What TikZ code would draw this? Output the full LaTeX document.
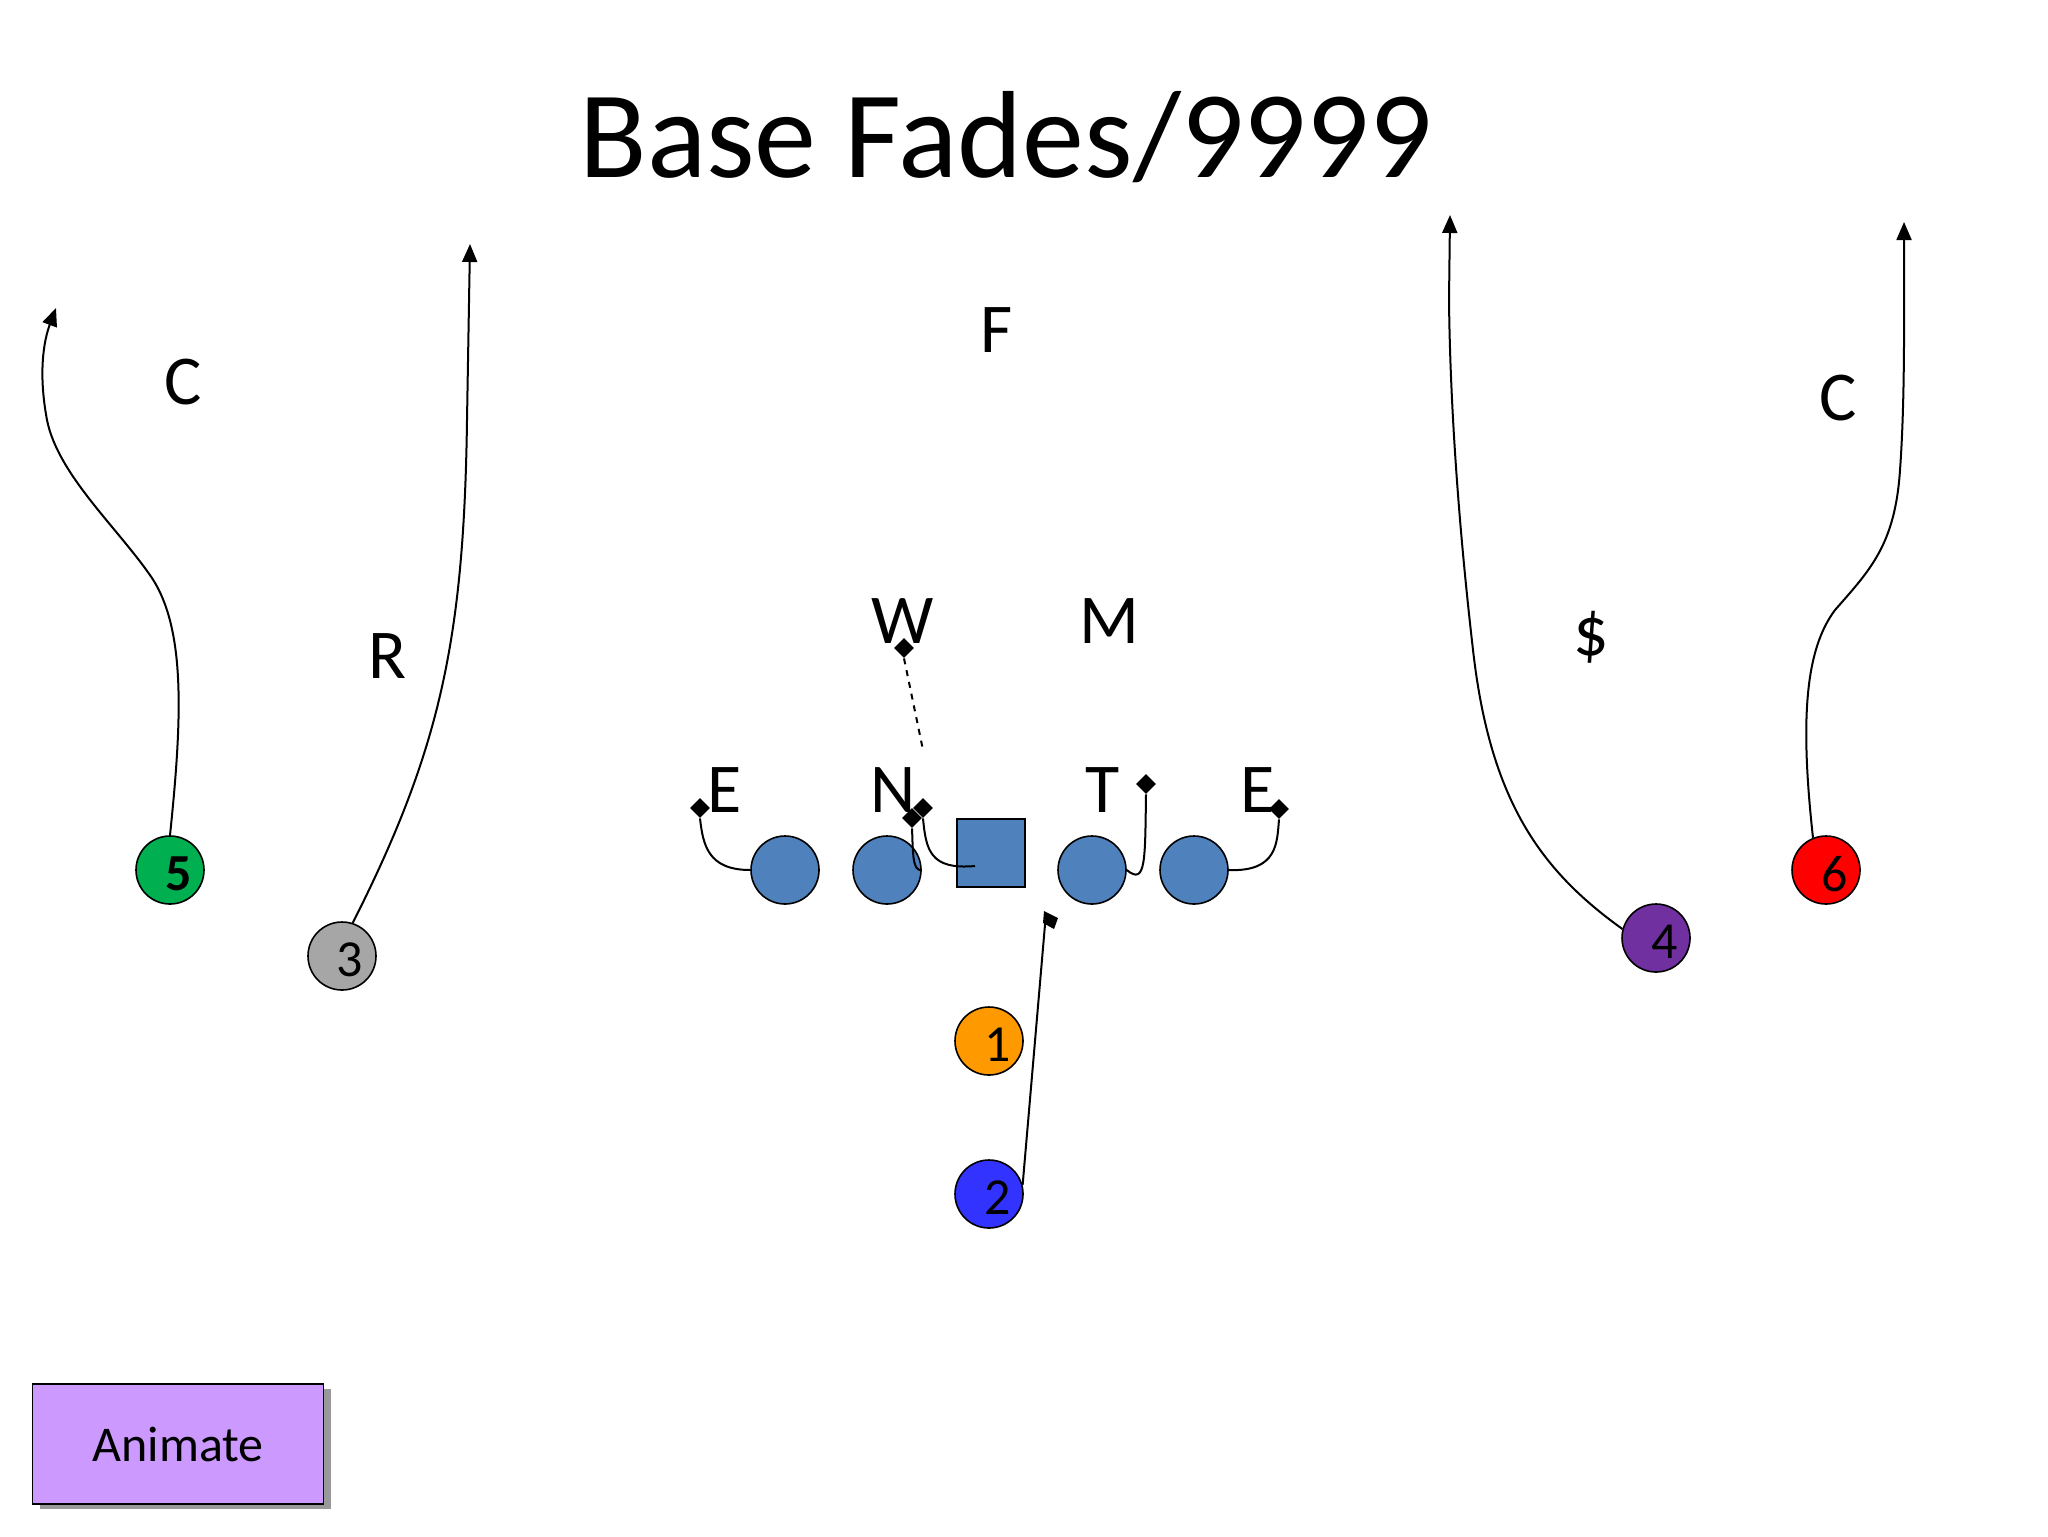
\documentclass[tikz,border=0pt]{standalone}
\usepackage{fontspec}
\setmainfont{Carlito}
\usetikzlibrary{arrows.meta,shapes.geometric,shadows}
\definecolor{olblue}{HTML}{4F81BD}
\definecolor{pgreen}{HTML}{00B050}
\definecolor{pgray}{HTML}{A6A6A6}
\definecolor{porange}{HTML}{FF9900}
\definecolor{pblue}{HTML}{3333FF}
\definecolor{ppurple}{HTML}{7030A0}
\definecolor{pred}{HTML}{FF0000}
\definecolor{animfill}{HTML}{CC99FF}
\begin{document}
\begin{tikzpicture}[x=0.5pt,y=-0.5pt,
  player/.style={circle,draw=black,line width=0.8pt,minimum size=34pt,inner sep=0pt},
  lineman/.style={circle,draw=black,line width=0.8pt,fill=olblue,minimum size=34pt,inner sep=0pt},
  num/.style={inner sep=0pt,font=\fontsize{26}{30}\selectfont},
  lbl/.style={inner sep=0pt,font=\fontsize{35}{42}\selectfont},
  dia/.style={diamond,fill=black,draw=none,inner sep=0pt,minimum width=10pt,minimum height=10pt},
  route/.style={line width=1pt,-{Triangle[length=9pt,width=7.5pt]}},
  block/.style={line width=1pt}
]
\useasboundingbox (0,0) rectangle (2048,1536);

% title
\node[inner sep=0pt,font=\fontsize{62}{70}\selectfont] (title) at (1006,137) {Base Fades/9999};

% defense labels
\node[lbl] (F) at (997,330) {F};
\node[lbl] (CL) at (183,382) {C};
\node[lbl] (CR) at (1838,398) {C};
\node[lbl] (R) at (387,656) {R};
\node[lbl] (W) at (903,621) {W};
\node[lbl] (M) at (1109,621) {M};
\node[lbl] (S) at (1591,637) {\$};
\node[lbl] (EL) at (725,790) {E};
\node[lbl] (N) at (893,790) {N};
\node[lbl] (T) at (1103,790) {T};
\node[lbl] (ER) at (1258,790) {E};

% offensive line
\node[lineman] (o1) at (785,870) {};
\node[lineman] (o2) at (887,870) {};
\node[rectangle,draw=black,line width=0.8pt,fill=olblue,minimum width=34pt,minimum height=34pt,inner sep=0pt] (c) at (991,853) {};
\node[lineman] (o3) at (1092,870) {};
\node[lineman] (o4) at (1194,870) {};

% diamonds (block points)
\node[dia] (dEL) at (700,808) {};
\node[dia] (dN1) at (912,818) {};
\node[dia] (dN2) at (923,808) {};
\node[dia] (dT) at (1146,784) {};
\node[dia] (dER) at (1279,809) {};
\node[dia] (dW) at (904,648) {};
\coordinate (wend) at (923,750);
\coordinate (cin) at (975,866);

% block lines
\draw[block] (o1.west) .. controls (708,870) and (703,845) .. (dEL.south);
\draw[block] (o2.east) .. controls (912,872) and (913,850) .. (dN1.south);
\draw[block] (cin) .. controls (930,870) and (926,850) .. (dN2.south);
\draw[block] (o3.east) .. controls (1146,886) and (1145,860) .. (dT.south);
\draw[block] (o4.east) .. controls (1278,872) and (1277,842) .. (dER.south);
\draw[line width=1pt,dashed] (dW.south) -- (wend);

% skill players
\node[player,fill=pgreen] (p5) at (170,870) {};
\node[num,font=\fontsize{26}{30}\selectfont\bfseries] (n5) at (179,874) {5};
\node[player,fill=pgray] (p3) at (342,956) {};
\node[num] (n3) at (350,960) {3};
\node[player,fill=porange] (p1) at (989,1041) {};
\node[num] (n1) at (998,1045) {1};
\node[player,fill=pblue] (p2) at (989,1194) {};
\node[num] (n2) at (998,1198) {2};
\node[player,fill=ppurple] (p4) at (1656,938) {};
\node[num] (n4) at (1665,942) {4};
\node[player,fill=pred] (p6) at (1826,870) {};
\node[num] (n6) at (1835,874) {6};

% routes
\coordinate (t5) at (56,308);
\coordinate (t3) at (470,244);
\coordinate (t4) at (1450,215);
\coordinate (t6) at (1904,222);
\coordinate (t2) at (1046,913);

\draw[route] (p5.north) .. controls (182,720) and (186,630) .. (152,578)
  .. controls (118,528) and (58,475) .. (47,420)
  .. controls (38,372) and (44,340) .. (t5);
\draw[route] (p3.72) .. controls (440,750) and (464,640) .. (467,420) -- (t3);
\draw[route] (p4.165) .. controls (1540,870) and (1490,800) .. (1473,650)
  .. controls (1458,520) and (1450,400) .. (1449,300) -- (t4);
\draw[route] (p6.112) .. controls (1800,720) and (1805,650) .. (1835,610)
  .. controls (1870,570) and (1895,545) .. (1900,470)
  .. controls (1905,400) and (1904,320) .. (t6);
\draw[block] (p2.15) -- (t2);
\fill (1044,911) -- (1058,918) -- (1054,929) -- (1043,923) -- cycle;

% animate button
\node[draw=black,line width=0.9pt,fill=animfill,minimum width=145.5pt,minimum height=60pt,inner sep=0pt,
  font=\fontsize{25}{30}\selectfont,
  drop shadow={shadow xshift=3.5pt,shadow yshift=-2.5pt,fill=black!40,opacity=1}] (anim) at (178,1444) {Animate};
\end{tikzpicture}
\end{document}
